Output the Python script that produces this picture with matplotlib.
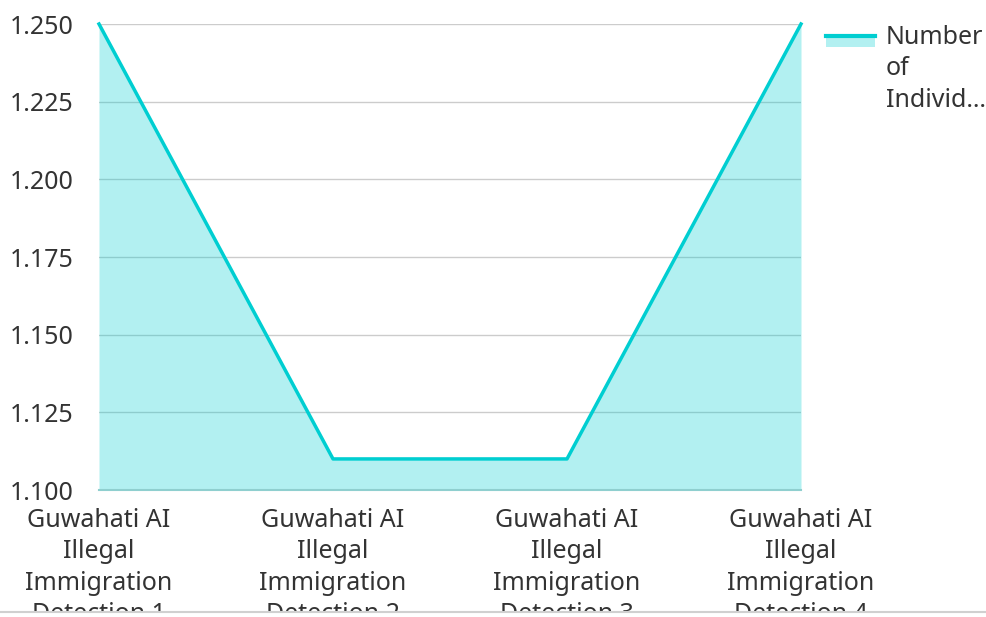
import matplotlib.pyplot as plt
from matplotlib.lines import Line2D
from matplotlib.patches import Rectangle

categories = ['Guwahati AI\nIllegal\nImmigration\nDetection 1',
              'Guwahati AI\nIllegal\nImmigration\nDetection 2',
              'Guwahati AI\nIllegal\nImmigration\nDetection 3',
              'Guwahati AI\nIllegal\nImmigration\nDetection 4']
values = [1.25, 1.11, 1.11, 1.25]
yticks = [1.100, 1.125, 1.150, 1.175, 1.200, 1.225, 1.250]
series_name = 'Number\nof\nIndivid…'

line_color = '#00CED1'
text_color = '#333333'
fs = 18

plt.rcParams['font.family'] = ['Noto Sans', 'DejaVu Sans']

fig = plt.figure(figsize=(9.87, 6.17), dpi=100)
ax = fig.add_axes([99/987, 1-490/617, (801-99)/987, (490-24)/617])

x = list(range(len(values)))
ax.fill_between(x, values, yticks[0], color=line_color, alpha=0.3, linewidth=0)
ax.plot(x, values, color=line_color, linewidth=2.5, clip_on=False, zorder=3)

ax.set_xlim(0, len(values) - 1)
ax.set_ylim(yticks[0], yticks[-1])
ax.set_yticks(yticks)
ax.set_yticklabels(['%.3f' % v for v in yticks])
ax.set_xticks(x)
ax.set_xticklabels(categories, linespacing=1.33)
ax.tick_params(axis='y', length=0, pad=18, labelsize=fs, labelcolor=text_color)
ax.tick_params(axis='x', length=0, pad=13, labelsize=fs, labelcolor=text_color)
ax.grid(axis='y', color='#cccccc', linewidth=1)
ax.set_axisbelow(True)
for s in ['top', 'left', 'right']:
    ax.spines[s].set_visible(False)
ax.spines['bottom'].set_color('#8fcfcf')
ax.spines['bottom'].set_linewidth(1.5)

# legend drawn by hand
fig.patches.append(Rectangle((826/987, 1-47/617), 49/987, 12/617,
                             transform=fig.transFigure, color=line_color,
                             alpha=0.3, linewidth=0))
fig.lines.append(Line2D([826/987, 875/987], [1-36/617, 1-36/617],
                        transform=fig.transFigure, color=line_color,
                        linewidth=3))
fig.text(886/987, 1-25/617, series_name, fontsize=fs, color=text_color,
         va='top', ha='left', linespacing=1.33)

# clipped bottom strip
fig.patches.append(Rectangle((0, 0), 1, 5/617, transform=fig.transFigure,
                             facecolor='white', edgecolor='none', zorder=10))
fig.lines.append(Line2D([0, 1], [5/617, 5/617], transform=fig.transFigure,
                        color='#d0d0d0', linewidth=1.5, zorder=11))

fig.savefig('out.png', dpi=100)
